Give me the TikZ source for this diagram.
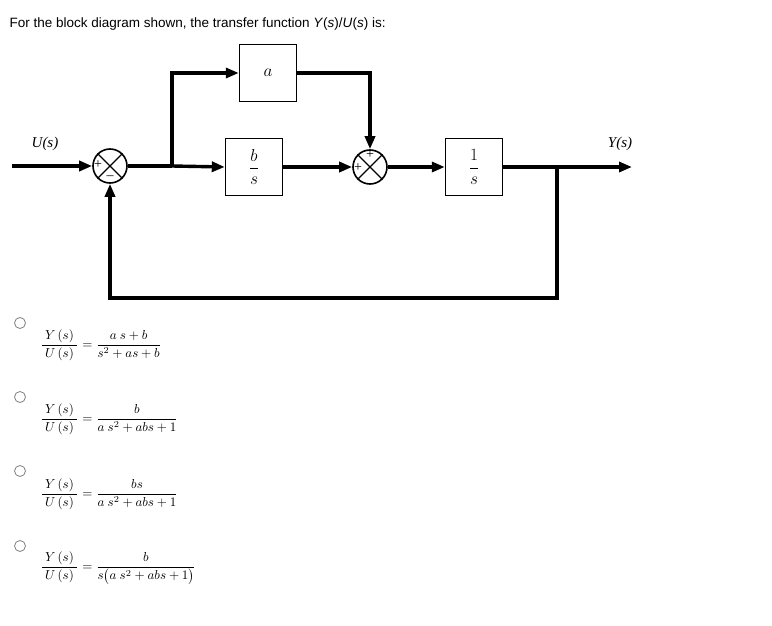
\documentclass[tikz,border=0pt]{standalone}
\usepackage{amsmath}
\usepackage{fontspec}
\setmainfont{Liberation Serif}
\newfontfamily\titlefont{Liberation Sans}
\usetikzlibrary{arrows.meta}
\begin{document}
\begin{tikzpicture}[x=1pt,y=-1pt,
  blk/.style={draw,line width=1.4pt,minimum width=57pt,minimum height=57pt,inner sep=0pt,font=\fontsize{17}{19}\selectfont},
  sumj/.style={draw,line width=1.6pt,circle,minimum size=34pt,inner sep=0pt},
  sig/.style={line width=3.4pt,-{Triangle[length=13pt,width=10pt]}},
  wire/.style={line width=3.4pt},
  lbl/.style={font=\fontsize{15}{17}\selectfont\itshape},
  pm/.style={font=\fontsize{14}{14}\selectfont,inner sep=0pt},
  opt/.style={anchor=west,inner sep=0pt,scale=1.3},
  radio/.style={draw=gray,line width=0.8pt,circle,minimum size=11pt,inner sep=0pt}]
\useasboundingbox[fill=white] (0,0) rectangle (772,626);
\node[anchor=west,font=\titlefont\fontsize{13.5}{16}\selectfont] (title) at (6,24) {For the block diagram shown, the transfer function \textit{Y}(\textit{s})/\textit{U}(\textit{s}) is:};
% blocks
\node[sumj] (s1) at (110,166) {};
\draw[line width=1.2pt] (s1.north west)--(s1.south east) (s1.north east)--(s1.south west);
\node[pm] (p1) at (98,165) {+};
\node[pm] (m1) at (110,178) {--};
\node[blk] (a) at (268,73) {$a$};
\node[blk] (b) at (254,167) {$\dfrac{b}{s}$};
\node[sumj] (s2) at (370,167) {};
\draw[line width=1.2pt] (s2.north west)--(s2.south east) (s2.north east)--(s2.south west);
\node[pm] (p2) at (370,155) {+};
\node[pm] (p3) at (358,168) {+};
\node[blk] (i) at (474,167) {$\dfrac{1}{s}$};
\coordinate (in) at (12,166);
\coordinate (br) at (172,166);
\coordinate (out) at (632,167);
\coordinate (ob) at (557,167);
\node[lbl] (U) at (45,144) {U(s)};
\node[lbl] (Y) at (620,144) {Y(s)};
% connectors
\draw[sig] (in) -- (s1.west);
\draw[wire] (s1.east) -- (br);
\draw[sig] (br) -- (b.west);
\draw[sig] (br) |- (a.west);
\draw[sig] (a.east) -| (s2.north);
\draw[sig] (b.east) -- (s2.west);
\draw[sig] (s2.east) -- (i.west);
\draw[sig] (i.east) -- (out);
\draw[sig] (ob) -- (557,298) -| (s1.south);
% options
\foreach \yy in {323,397,471,546} \node[radio] at (20,\yy) {};
\node[opt] (o1) at (40,345) {$\dfrac{\ Y\,(s)\ }{U\,(s)}=\dfrac{a\ s+b}{s^{2}+as+b}$};
\node[opt] (o2) at (40,419) {$\dfrac{\ Y\,(s)\ }{U\,(s)}=\dfrac{b}{a\ s^{2}+abs+1}$};
\node[opt] (o3) at (40,494) {$\dfrac{\ Y\,(s)\ }{U\,(s)}=\dfrac{bs}{a\ s^{2}+abs+1}$};
\node[opt] (o4) at (40,568) {$\dfrac{\ Y\,(s)\ }{U\,(s)}=\dfrac{b}{s\bigl(a\ s^{2}+abs+1\bigr)}$};
\end{tikzpicture}
\end{document}
